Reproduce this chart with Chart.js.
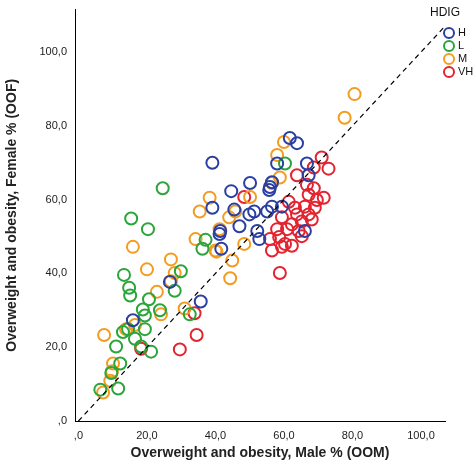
<!DOCTYPE html>
<html><head><meta charset="utf-8">
<script src="https://cdn.jsdelivr.net/npm/chart.js@4"></script>
<style>html,body{margin:0;padding:0;background:#fff}#w{width:474px;height:466px}</style>
</head><body><div id="w"><canvas id="c"></canvas></div>
<script>
const groups = ["H","L","M","VHI"];
const colors = ["#2b3fa3","#2aa53a","#f39c1f","#e3232f"];
const H = [[39.1,70],[61.7,76.7],[63.8,75.3],[58,69.8],[66.7,69.8],[67.2,66.6],[56.5,64.7],[55.9,63.4],[55.7,62.6],[50.1,64.5],[44.6,62.3],[51.3,56.8],[55.1,56.8],[56.5,58.1],[59.4,58.1],[49.9,56],[45.5,57.3],[39.1,57.8],[41.4,51.5],[41.2,50.7],[47,52.8],[52.2,51.5],[52.8,49.3],[41.7,46.7],[66.1,51.5],[26.7,37.7],[35.7,32.4],[15.9,27.3]];
const L = [[24.6,63.1],[15.4,54.9],[20.3,52],[13.3,39.6],[14.8,36.1],[15.1,34],[29.9,40.6],[36.2,46.7],[20.6,33],[18.8,30.2],[19.4,28.6],[23.8,30],[13,24.1],[14.5,24.9],[16.5,22.3],[19.4,24.9],[11,20.2],[18.3,20.2],[21.2,18.8],[12.2,15.6],[9.6,13],[11.6,8.8],[6.4,8.5],[28.1,35.3],[32.5,28.9],[37.1,49.1],[60.3,69.8]];
const M = [[7.5,23.3],[15.9,47.2],[20,41.1],[27,43.8],[28.1,40.1],[27,37.9],[22.9,35],[24.1,28.9],[31,30.5],[13.9,24.9],[16.5,26],[10.1,15.6],[9.3,10.9],[7.2,7.7],[9.8,13.5],[80.6,88.6],[77.7,82.2],[60,75.6],[58,72.1],[58.8,66],[56.5,64.5],[50.1,60.7],[38.3,60.5],[35.4,56.8],[44,55.2],[45.8,56.8],[41.2,52],[34.2,49.3],[40,46.2],[44.9,43.5],[48.4,48],[44.3,38.7],[40.3,45.9]];
const VHI = [[71,71.4],[73,68.4],[68.7,68.7],[63.8,66.6],[68.7,63.1],[71.6,60.5],[67.2,61.3],[61.4,59.4],[59.4,55.2],[62.3,53.3],[65.2,54.1],[67.2,56],[69,57.8],[64.3,51.5],[55.9,49.3],[58.6,49.9],[60.3,48],[56.5,46.2],[59.4,47.2],[62.3,47.5],[58.8,40.1],[48.4,60.7],[63.2,57.8],[66.1,58.1],[18.3,19.6],[29.6,19.4],[34.5,23.3],[33.9,29.2],[66.7,64],[69.6,59.9],[63.8,56],[68.1,54.6],[60.9,52],[65.2,50.1],[58,52]];
const xTicks = [0,20,40,60,80,100];
const yTicks = [0,20,40,60,80,100];
const series = [H,L,M,VHI];
const fmt = v => v===0 ? ",0" : v.toFixed(1).replace(".",",");
const ds = series.map((s,i)=>({label:groups[i],data:s.map(p=>({x:p[0],y:p[1]})),showLine:false,
  pointRadius:6,pointHoverRadius:6,borderWidth:2,borderColor:colors[i],backgroundColor:'rgba(0,0,0,0)'}));
ds.unshift({label:'ref',data:[{x:0,y:0},{x:120,y:120}],showLine:true,pointRadius:0,borderColor:'#000',borderWidth:1.2,borderDash:[5,4],fill:false});
const legendPlugin={id:'lg',afterDraw(c){const g=c.ctx;g.save();g.font='12px Arial, Liberation Sans';g.fillStyle='#111';g.textBaseline='middle';
 g.fillText('HDIG',430,13);
 groups.forEach((n,i)=>{const y=33+i*13;g.beginPath();g.arc(449,y,5,0,Math.PI*2);g.strokeStyle=colors[i];g.lineWidth=2;g.stroke();g.fillStyle='#111';g.font='11px Arial, Liberation Sans';g.fillText(n,458,y);});
 g.restore();}};
new Chart(document.getElementById('c'),{type:'scatter',data:{datasets:ds},plugins:[legendPlugin],
options:{responsive:true,maintainAspectRatio:false,animation:false,layout:{padding:{right:29,top:0}},
plugins:{legend:{display:false},tooltip:{enabled:false}},
scales:{
 x:{min:-1,max:107,afterFit:s=>{s.height=45},afterBuildTicks:s=>{s.ticks=xTicks.map(v=>({value:v}))},
   grid:{display:false,drawTicks:true,tickLength:5,tickColor:'#000'},border:{color:'#000',width:1},
   ticks:{color:'#222',font:{size:11,family:'Arial, Liberation Sans'},callback:v=>fmt(v),maxRotation:0},
   title:{display:true,text:'Overweight and obesity, Male % (OOM)',color:'#222',font:{size:14,weight:'bold',family:'Arial, Liberation Sans'},padding:{top:0}}},
 y:{min:0,max:111.5,afterFit:s=>{s.width=75},afterBuildTicks:s=>{s.ticks=yTicks.map(v=>({value:v}))},
   grid:{display:false,drawTicks:true,tickLength:5,tickColor:'#000'},border:{color:'#000',width:1},
   ticks:{color:'#222',font:{size:11,family:'Arial, Liberation Sans'},callback:v=>fmt(v)},
   title:{display:true,text:'Overweight and obesity, Female % (OOF)',color:'#222',font:{size:14,weight:'bold',family:'Arial, Liberation Sans'},padding:{bottom:2}}}
}}});
</script></body></html>
